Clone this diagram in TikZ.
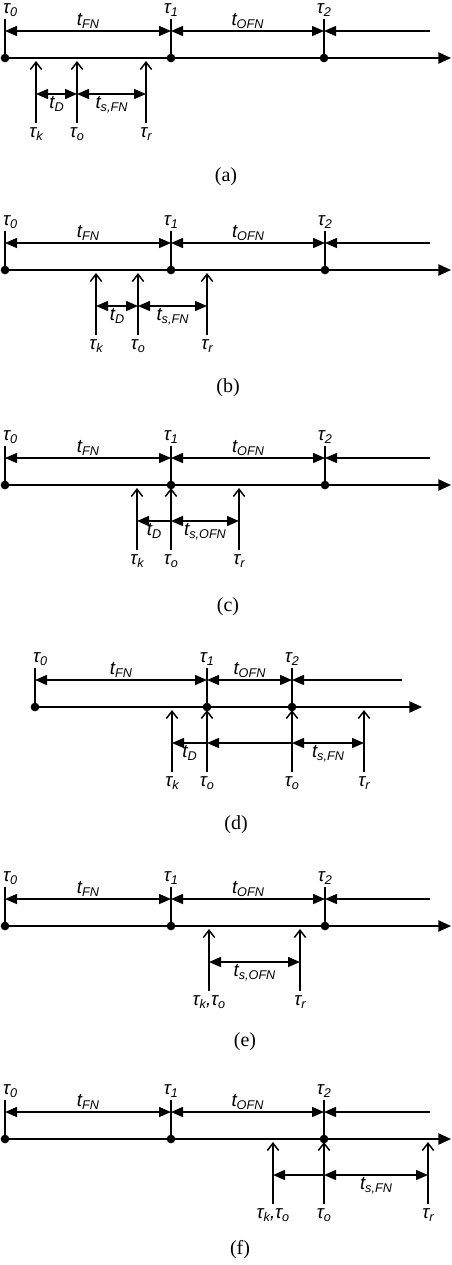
\documentclass[tikz,border=0pt]{standalone}
\usepackage{fontspec}
\setmainfont{Liberation Serif}
\newfontfamily\labfont{Liberation Sans}
\usetikzlibrary{arrows.meta}
% label with subscript
\newcommand{\tlab}[2]{#1\raisebox{-0.3ex}{\fontsize{9.5}{10}\selectfont #2}}
\tikzset{
  % node options
  dot/.style={circle,fill,inner sep=0pt,minimum size=6.5pt},
  tau/.style={font=\labfont\itshape\fontsize{14}{16}\selectfont,inner sep=1pt},
  caption/.style={font=\fontsize{15}{17}\selectfont},
  % path options
  axis/.style={-{Triangle[length=9.5pt,width=8.5pt]}},
  dim/.style={{Triangle[length=9pt,width=7.5pt]}-{Triangle[length=9pt,width=7.5pt]}},
  dim left/.style={{Triangle[length=9pt,width=7.5pt]}-},
  probe/.style={-{Straight Barb[length=5.5pt,width=8.5pt]}},
}
% #1 prefix, #2 axis y, #3-#5 tau_0..tau_2, #6 axis end, #7 end of dimension line
\newcommand{\timeline}[7]{%
  \node[dot] (#1t0) at (#3,#2) {};
  \node[dot] (#1t1) at (#4,#2) {};
  \node[dot] (#1t2) at (#5,#2) {};
  \coordinate (#1end) at (#6,#2);
  \coordinate (#1top0) at (#3,#2-39);
  \coordinate (#1top1) at (#4,#2-39);
  \coordinate (#1top2) at (#5,#2-39);
  \coordinate (#1d0) at (#3,#2-27);
  \coordinate (#1d1) at (#4,#2-27);
  \coordinate (#1d2) at (#5,#2-27);
  \coordinate (#1dend) at (#7,#2-27);
  \node[tau,anchor=south west] (#1lab0) at ([xshift=-3]#1top0) {\tlab{τ}{0}};
  \node[tau,anchor=south] (#1lab1) at (#1top1) {\tlab{τ}{1}};
  \node[tau,anchor=south] (#1lab2) at (#1top2) {\tlab{τ}{2}};
  \draw (#1t0.center) -- (#1top0);
  \draw (#1t1.center) -- (#1top1);
  \draw (#1t2.center) -- (#1top2);
  \draw[axis] (#1t0.center) -- (#1end);
  \draw[dim] (#1d0) -- node[tau,above] (#1FN) {\tlab{t}{FN}} (#1d1);
  \draw[dim] (#1d1) -- node[tau,above] (#1OFN) {\tlab{t}{OFN}} (#1d2);
  \draw[dim left] (#1d2) -- (#1dend);
}
% #1 name, #2 x, #3 axis y, #4 text
\newcommand{\probe}[4]{%
  \coordinate (#1 bot) at (#2,#3+65);
  \coordinate (#1 tip) at (#2,#3+3);
  \coordinate (#1 dim) at (#2,#3+36);
  \draw[probe] (#1 bot) -- (#1 tip);
  \node[tau,anchor=north] (#1 lab) at ([yshift=-2]#1 bot) {#4};
}

\begin{document}
\begin{tikzpicture}[x=0.75pt,y=-0.75pt,line width=1.1pt]
  \useasboundingbox (0,0) rectangle (452,1265);
  % (a)
  \timeline{a}{58}{5}{171}{324}{451}{430}
  \probe{ak}{36}{58}{\tlab{τ}{k}}
  \probe{ao}{77}{58}{\tlab{τ}{o}}
  \probe{ar}{146}{58}{\tlab{τ}{r}}
  \draw[dim] (ak dim) -- node[tau,below] (aD) {\tlab{t}{D}} (ao dim);
  \draw[dim] (ao dim) -- node[tau,below] (asFN) {\tlab{t}{s,FN}} (ar dim);
  \node[caption] (capa) at (226,177) {(a)};
  % (b)
  \timeline{b}{270}{5}{171}{325}{451}{430}
  \probe{bk}{96}{270}{\tlab{τ}{k}}
  \probe{bo}{138}{270}{\tlab{τ}{o}}
  \probe{br}{207}{270}{\tlab{τ}{r}}
  \draw[dim] (bk dim) -- node[tau,below] (bD) {\tlab{t}{D}} (bo dim);
  \draw[dim] (bo dim) -- node[tau,below] (bsFN) {\tlab{t}{s,FN}} (br dim);
  \node[caption] (capb) at (228,388) {(b)};
  % (c)
  \timeline{c}{485}{5}{171}{325}{451}{430}
  \probe{ck}{137}{485}{\tlab{τ}{k}}
  \probe{co}{171}{485}{\tlab{τ}{o}}
  \probe{cr}{239}{485}{\tlab{τ}{r}}
  \draw[dim left] (ck dim) -- node[tau,below] (cD) {\tlab{t}{D}} (co dim);
  \draw[dim] (co dim) -- node[tau,below] (csOFN) {\tlab{t}{s,OFN}} (cr dim);
  \node[caption] (capc) at (228,607) {(c)};
  % (d)
  \timeline{d}{707}{35}{207}{292}{422}{402}
  \probe{dk}{172}{707}{\tlab{τ}{k}}
  \probe{do}{207}{707}{\tlab{τ}{o}}
  \probe{dp}{292}{707}{\tlab{τ}{o}}
  \probe{dr}{364}{707}{\tlab{τ}{r}}
  \draw[dim left] (dk dim) -- node[tau,below] (dD) {\tlab{t}{D}} (do dim);
  \draw[dim left] (do dim) -- (dp dim);
  \draw[dim] (dp dim) -- node[tau,below] (dsFN) {\tlab{t}{s,FN}} (dr dim);
  \node[caption] (capd) at (236,825) {(d)};
  % (e)
  \timeline{e}{926}{5}{171}{325}{451}{430}
  \probe{ek}{209}{926}{\tlab{τ}{k},\tlab{τ}{o}}
  \probe{er}{300}{926}{\tlab{τ}{r}}
  \draw[dim] (ek dim) -- node[tau,below] (esOFN) {\tlab{t}{s,OFN}} (er dim);
  \node[caption] (cape) at (245,1042) {(e)};
  % (f)
  \timeline{f}{1139}{5}{171}{324}{451}{430}
  \probe{fk}{273}{1139}{\tlab{τ}{k},\tlab{τ}{o}}
  \probe{fo}{324}{1139}{\tlab{τ}{o}}
  \probe{fr}{428}{1139}{\tlab{τ}{r}}
  \draw[dim left] (fk dim) -- (fo dim);
  \draw[dim] (fo dim) -- node[tau,below] (fsFN) {\tlab{t}{s,FN}} (fr dim);
  \node[caption] (capf) at (240,1250) {(f)};
\end{tikzpicture}
\end{document}
